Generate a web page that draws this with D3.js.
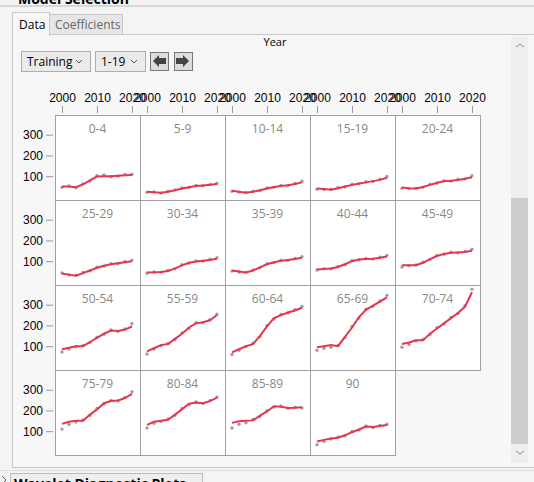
<!DOCTYPE html>
<html><head><meta charset="utf-8">
<script src="https://cdn.jsdelivr.net/npm/d3@7"></script>
<style>
body{margin:0;background:#f4f4f4;font-family:"Segoe UI","Open Sans",sans-serif;}
</style></head>
<body><div id="chart"></div>
<script>
// data: fitted line and observed points, every 2 years 2000..2020
const years = [2000,2002,2004,2006,2008,2010,2012,2014,2016,2018,2020];
const groups = ["0-4","5-9","10-14","15-19","20-24","25-29","30-34","35-39","40-44","45-49",
  "50-54","55-59","60-64","65-69","70-74","75-79","80-84","85-89","90"];
const fitted = [
  [50,50,47,60,80,98,100,100,102,104,106],
  [25,22,20,25,32,40,47,52,55,58,62],
  [30,25,20,25,32,40,48,52,56,62,70],
  [40,38,35,42,50,58,65,70,76,82,92],
  [45,42,40,48,58,68,75,78,82,88,95],
  [40,35,30,42,55,68,78,85,90,95,100],
  [45,46,48,52,65,80,92,98,102,106,112],
  [55,50,45,55,70,85,95,102,106,110,116],
  [60,62,65,72,85,100,108,110,112,116,122],
  [80,80,80,92,110,125,135,140,142,144,150],
  [85,92,100,100,120,140,160,175,173,180,195],
  [75,90,105,110,135,160,190,210,215,225,250],
  [70,85,100,110,150,195,235,250,262,272,285],
  [95,100,105,100,145,190,240,275,295,315,335],
  [110,118,128,128,160,185,210,235,260,290,360],
  [135,145,150,150,180,205,235,245,248,260,280],
  [130,145,150,155,180,205,232,238,235,245,262],
  [140,148,150,152,175,195,220,218,212,213,215],
  [50,58,65,68,80,95,108,122,120,125,130]
];
const observed = [
  [46,53,44,63,77,102,106,97,100,108,109],
  [22,24,18,27,34,43,45,55,53,60,66],
  [27,23,22,27,30,43,46,55,54,65,76],
  [37,36,37,45,48,61,63,73,74,85,98],
  [42,40,42,46,61,66,78,76,85,86,102],
  [43,33,32,45,53,71,76,88,88,98,105],
  [42,48,46,55,63,83,90,101,100,109,117],
  [52,48,47,58,68,88,93,105,104,113,122],
  [57,64,63,75,83,103,106,113,110,119,128],
  [72,78,82,95,108,128,133,143,140,147,158],
  [72,86,97,103,118,143,157,178,171,183,208],
  [62,86,103,113,132,164,186,213,213,228,254],
  [60,80,97,114,146,199,231,253,260,276,292],
  [80,90,95,104,141,194,236,278,292,318,345],
  [95,108,125,132,156,189,207,238,257,295,375],
  [110,132,144,154,176,209,231,248,246,263,290],
  [115,138,147,159,176,209,228,241,233,248,265],
  [115,133,140,156,171,199,216,221,210,216,212],
  [35,50,62,72,78,98,105,125,118,128,133]
];
const yTicks = [100,200,300];
const xTicks = [2000,2010,2020];

const W = 534, H = 482;
const svg = d3.select("#chart").append("svg").attr("width", W).attr("height", H)
  .style("font-family", "'Segoe UI','Open Sans',sans-serif");

// window chrome
svg.append("rect").attr("width", W).attr("height", H).attr("fill", "#f4f4f4");
svg.append("text").attr("x", 18).attr("y", 4).text("Model Selection")
  .style("font-size","14px").style("font-weight","bold").attr("fill","#000");
svg.append("line").attr("x1",0).attr("x2",W).attr("y1",6).attr("y2",6).attr("stroke","#bbb");
svg.append("rect").attr("x",12.5).attr("y",34.5).attr("width",530).attr("height",433)
  .attr("fill","#f7f7f7").attr("stroke","#c8c8c8");
// tabs
svg.append("rect").attr("x",49.5).attr("y",14.5).attr("width",73).attr("height",20)
  .attr("fill","#e6e6e6").attr("stroke","#c8c8c8");
svg.append("rect").attr("x",12.5).attr("y",12.5).attr("width",37).attr("height",23)
  .attr("fill","#f7f7f7").attr("stroke","#c8c8c8");
svg.append("rect").attr("x",13).attr("y",34).attr("width",36).attr("height",2).attr("fill","#f7f7f7");
svg.append("text").attr("x",19).attr("y",29).text("Data").style("font-size","12px").attr("fill","#000");
svg.append("text").attr("x",55).attr("y",29).text("Coefficients").style("font-size","12px").attr("fill","#666");
svg.append("text").attr("x",275).attr("y",46).attr("text-anchor","middle").text("Year")
  .style("font-size","11px").attr("fill","#000");
// dropdowns and buttons
[[21,69,"Training"],[95,50,"1-19"]].forEach(([x,w,t]) => {
  svg.append("rect").attr("x",x+0.5).attr("y",51.5).attr("width",w).attr("height",20)
    .attr("fill","#ebebeb").attr("stroke","#adadad");
  svg.append("text").attr("x",x+6).attr("y",66).text(t).style("font-size","12px").attr("fill","#000");
  svg.append("path").attr("d",`M${x+w-14},60 l3,3 l3,-3`).attr("fill","none").attr("stroke","#555");
});
[150,174].forEach(x => {
  svg.append("rect").attr("x",x+0.5).attr("y",52.5).attr("width",18).attr("height",18)
    .attr("fill","#ddd").attr("stroke","#777");
});
svg.append("path").attr("d","M153,61 l6,-6 l0,3 l7,0 l0,6 l-7,0 l0,3 z").attr("fill","#444");
svg.append("path").attr("d","M189,61 l-6,-6 l0,3 l-7,0 l0,6 l7,0 l0,3 z").attr("fill","#444");
// scrollbar
svg.append("rect").attr("x",511).attr("y",37).attr("width",17).attr("height",426).attr("fill","#eee");
svg.append("rect").attr("x",511).attr("y",198).attr("width",17).attr("height",246).attr("fill","#cdcdcd");
svg.append("path").attr("d","M516,47 l4,-3 l4,3").attr("fill","none").attr("stroke","#888");
svg.append("path").attr("d","M516,451 l4,3 l4,-3").attr("fill","none").attr("stroke","#888");
// bottom section header
svg.append("line").attr("x1",0).attr("x2",W).attr("y1",470.5).attr("y2",470.5).attr("stroke","#ddd");
svg.append("rect").attr("x",10.5).attr("y",473.5).attr("width",192).attr("height",12)
  .attr("fill","#eee").attr("stroke","#bbb");
svg.append("text").attr("x",14).attr("y",489).text("Wavelet Diagnostic Plots")
  .style("font-size","14px").style("font-weight","bold").attr("fill","#000");
svg.append("path").attr("d","M2,476 l4,4 l-4,4").attr("fill","none").attr("stroke","#666");

// panel grid
const x0 = 55, y0 = 115, pw = 85, ph = 85, cols = 5;
const x = d3.scaleLinear().domain([1998, 2022.3]).range([0, pw]);
const y = d3.scaleLinear().domain([-15, 395]).range([ph, 0]);

// top x axes
for (let c = 0; c < cols; c++) {
  const g = svg.append("g").attr("transform", `translate(${x0 + c*pw},${y0 - 2})`);
  g.call(d3.axisTop(x).tickValues(d3.range(2000, 2021, 2.5)).tickSize(4).tickFormat(""))
    .call(a => a.select(".domain").attr("stroke","#999"))
    .call(a => a.selectAll(".tick line").attr("stroke","#999"));
  g.call(d3.axisTop(x).tickValues(xTicks).tickSize(7).tickFormat(d3.format("d")))
    .call(a => a.select(".domain").remove())
    .call(a => a.selectAll(".tick line").attr("stroke","#999"))
    .call(a => a.selectAll("text").style("font-size","12px").attr("fill","#000").attr("dy","-0.1em"));
}
// left y axes
const nrows = Math.ceil(groups.length / cols);
for (let r = 0; r < nrows; r++) {
  const g = svg.append("g").attr("transform", `translate(${x0 - 2},${y0 + r*ph})`);
  g.call(d3.axisLeft(y).tickValues(d3.range(50, 390, 50)).tickSize(4).tickFormat(""))
    .call(a => a.select(".domain").remove())
    .call(a => a.selectAll(".tick line").attr("stroke","#999"));
  g.call(d3.axisLeft(y).tickValues(yTicks).tickSize(7))
    .call(a => a.select(".domain").remove())
    .call(a => a.selectAll(".tick line").attr("stroke","#999"))
    .call(a => a.selectAll("text").style("font-size","12px").attr("fill","#000"));
}

const line = d3.line().x((d, i) => x(years[i])).y(d => y(d));
groups.forEach((name, i) => {
  const c = i % cols, r = Math.floor(i / cols);
  const g = svg.append("g").attr("transform", `translate(${x0 + c*pw},${y0 + r*ph})`);
  g.append("rect").attr("x",0.5).attr("y",0.5).attr("width",pw).attr("height",ph)
    .attr("fill","#fff").attr("stroke","#a0a0a0");
  g.append("text").attr("x", pw/2).attr("y", 18).attr("text-anchor","middle").text(name)
    .style("font-size","12px").attr("fill","#888");
  g.selectAll("circle").data(observed[i]).enter().append("circle")
    .attr("cx", (d, k) => x(years[k])).attr("cy", d => y(d)).attr("r", 1.7).attr("fill", "#a0a0a0");
  g.append("path").attr("d", line(fitted[i])).attr("fill","none")
    .attr("stroke","#e8344e").attr("stroke-width",2);
});
</script></body></html>
